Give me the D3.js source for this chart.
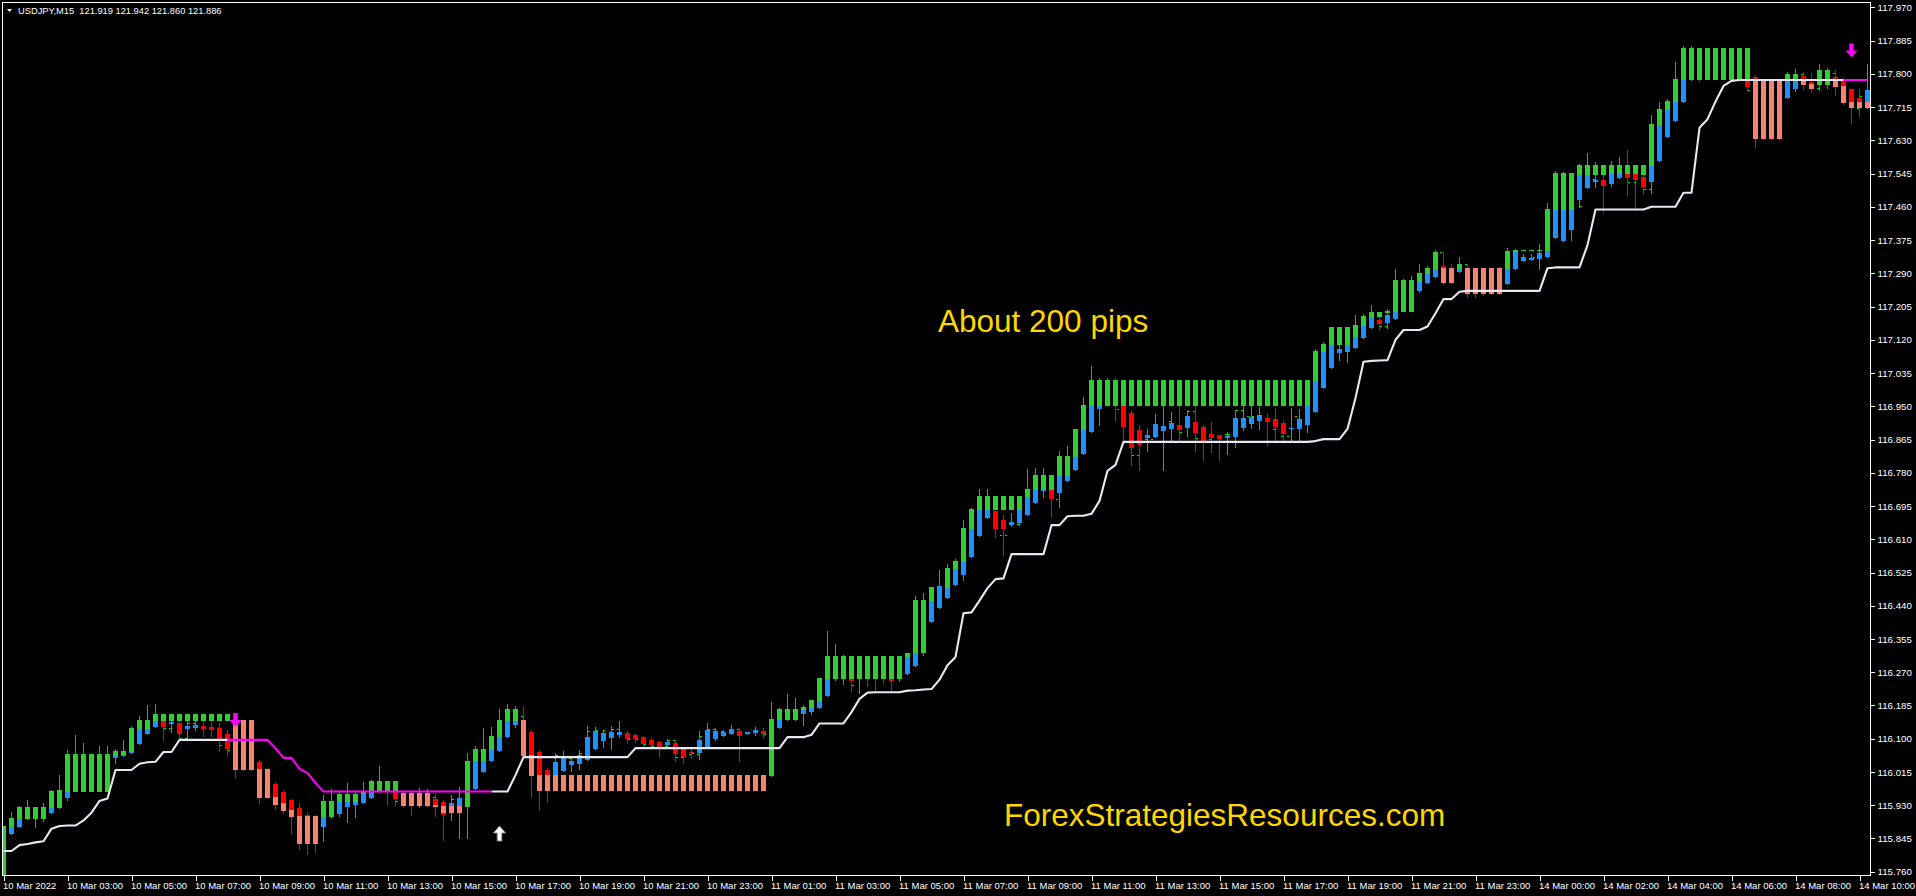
<!DOCTYPE html>
<html><head><meta charset="utf-8">
<script src="https://cdn.jsdelivr.net/npm/d3@7"></script>
<style>html,body{margin:0;padding:0;background:#000;overflow:hidden}</style>
</head><body>
<svg id="chart" width="1916" height="896"></svg>
<script>
// ---------------- DATA ----------------
const chartTitle = "USDJPY,M15  121.919 121.942 121.860 121.886";
const xLabels = ["10 Mar 2022","10 Mar 03:00","10 Mar 05:00","10 Mar 07:00","10 Mar 09:00","10 Mar 11:00","10 Mar 13:00","10 Mar 15:00","10 Mar 17:00","10 Mar 19:00","10 Mar 21:00","10 Mar 23:00","11 Mar 01:00","11 Mar 03:00","11 Mar 05:00","11 Mar 07:00","11 Mar 09:00","11 Mar 11:00","11 Mar 13:00","11 Mar 15:00","11 Mar 17:00","11 Mar 19:00","11 Mar 21:00","11 Mar 23:00","14 Mar 00:00","14 Mar 02:00","14 Mar 04:00","14 Mar 06:00","14 Mar 08:00","14 Mar 10:00"];
const barsPerLabel = 8;
const yTickLabels = ["115.760","115.845","115.930","116.015","116.100","116.185","116.270","116.355","116.440","116.525","116.610","116.695","116.780","116.865","116.950","117.035","117.120","117.205","117.290","117.375","117.460","117.545","117.630","117.715","117.800","117.885","117.970"];
const priceRange = [115.7516, 117.9836];

const open = [
115.790,115.857,115.874,115.897,115.900,115.903,115.910,115.928,115.949,115.969,
115.982,115.994,116.007,116.020,116.051,116.056,116.064,116.087,116.112,116.130,
116.145,116.138,116.140,116.125,116.127,116.133,116.130,116.127,116.112,116.135,
116.122,116.110,116.040,116.020,115.984,115.964,115.943,115.923,115.905,115.892,
115.874,115.900,115.908,115.926,115.931,115.936,115.949,115.969,115.982,115.982,
115.956,115.956,115.943,115.943,115.946,115.938,115.928,115.928,115.926,115.972,
116.016,116.044,116.069,116.104,116.135,116.148,116.117,116.066,116.020,115.999,
116.017,116.033,116.035,116.046,116.074,116.094,116.102,116.110,116.115,116.110,
116.104,116.097,116.092,116.084,116.089,116.074,116.066,116.064,116.079,116.099,
116.107,116.112,116.120,116.112,116.115,116.120,116.020,116.127,116.148,116.153,
116.163,116.168,116.179,116.210,116.253,116.263,116.271,116.263,116.281,116.276,
116.276,116.276,116.255,116.265,116.285,116.327,116.399,116.435,116.461,116.493,
116.519,116.565,116.618,116.665,116.682,116.659,116.647,116.652,116.673,116.703,
116.733,116.735,116.728,116.760,116.787,116.829,116.885,116.943,116.966,116.992,
116.979,116.933,116.889,116.869,116.871,116.887,116.892,116.902,116.894,116.910,
116.897,116.879,116.877,116.869,116.871,116.894,116.905,116.912,116.920,116.917,
116.907,116.892,116.892,116.902,116.936,116.997,117.048,117.086,117.089,117.100,
117.125,117.151,117.171,117.164,117.174,117.209,117.222,117.245,117.266,117.281,
117.309,117.298,117.294,117.298,117.293,117.293,117.293,117.293,117.263,117.301,
117.321,117.324,117.327,117.331,117.380,117.373,117.401,117.477,117.508,117.523,
117.529,117.518,117.534,117.544,117.544,117.536,117.523,117.577,117.638,117.679,
117.728,117.797,117.835,117.835,117.805,117.840,117.810,117.835,117.799,117.792,
117.771,117.759,117.656,117.738,117.761,117.794,117.779,117.771,117.771,117.792,
117.784,117.761,117.738,117.713];
const high = [
115.877,115.913,115.928,115.943,115.926,115.936,115.969,116.007,116.071,116.110,
116.090,116.061,116.081,116.081,116.074,116.097,116.133,116.158,116.186,116.189,
116.163,116.163,116.145,116.145,116.153,116.145,116.143,116.140,116.122,116.148,
116.143,116.135,116.046,116.025,115.989,115.969,115.946,115.936,115.913,115.905,
115.956,115.971,115.964,115.987,115.964,115.989,115.994,116.030,115.992,115.992,
115.964,115.964,115.974,115.971,115.959,115.943,115.956,115.977,116.064,116.081,
116.127,116.130,116.176,116.189,116.184,116.181,116.122,116.071,116.025,116.064,
116.069,116.051,116.071,116.133,116.130,116.122,116.133,116.145,116.120,116.112,
116.107,116.102,116.094,116.099,116.097,116.076,116.074,116.120,116.140,116.127,
116.122,116.135,116.127,116.117,116.130,116.127,116.194,116.179,116.214,116.204,
116.186,116.199,116.255,116.375,116.342,116.314,116.311,116.311,116.311,116.311,
116.311,116.311,116.311,116.319,116.465,116.473,116.488,116.532,116.547,116.560,
116.659,116.690,116.738,116.738,116.697,116.672,116.677,116.697,116.790,116.792,
116.792,116.771,116.835,116.848,116.892,116.974,117.053,117.022,117.022,117.023,
117.012,116.940,116.902,116.892,116.930,116.953,116.935,116.953,116.940,116.953,
116.902,116.910,116.877,116.884,116.940,116.953,116.953,116.948,116.933,116.945,
116.915,116.945,116.943,117.004,117.096,117.114,117.153,117.145,117.132,117.184,
117.186,117.209,117.181,117.199,117.301,117.275,117.283,117.314,117.309,117.350,
117.344,117.314,117.332,117.314,117.304,117.304,117.304,117.307,117.355,117.352,
117.339,117.339,117.365,117.470,117.552,117.549,117.546,117.569,117.598,117.575,
117.544,117.577,117.587,117.605,117.567,117.554,117.695,117.728,117.736,117.830,
117.871,117.871,117.861,117.856,117.861,117.861,117.856,117.856,117.810,117.797,
117.784,117.784,117.784,117.805,117.812,117.805,117.802,117.825,117.815,117.810,
117.789,117.761,117.761,117.825];
const low = [
115.764,115.857,115.874,115.895,115.875,115.890,115.910,115.923,115.943,115.966,
115.966,115.969,115.974,115.969,116.039,116.056,116.064,116.087,116.112,116.130,
116.097,116.118,116.097,116.097,116.122,116.107,116.107,116.069,116.058,116.000,
116.020,116.020,115.936,115.949,115.920,115.910,115.857,115.818,115.805,115.810,
115.839,115.897,115.903,115.887,115.900,115.936,115.948,115.965,115.931,115.931,
115.926,115.905,115.926,115.928,115.903,115.841,115.892,115.846,115.846,115.971,
116.015,116.043,116.069,116.104,116.130,116.056,115.952,115.918,115.939,115.994,
116.017,116.017,116.023,116.046,116.074,116.079,116.074,116.104,116.089,116.092,
116.079,116.079,116.053,116.079,116.043,116.038,116.051,116.048,116.079,116.097,
116.107,116.112,116.043,116.112,116.110,116.102,116.005,116.127,116.148,116.148,
116.135,116.163,116.179,116.209,116.250,116.239,116.222,116.217,116.235,116.222,
116.243,116.224,116.248,116.265,116.285,116.314,116.398,116.434,116.460,116.493,
116.506,116.565,116.618,116.664,116.617,116.570,116.644,116.646,116.672,116.703,
116.718,116.668,116.693,116.759,116.787,116.828,116.884,116.902,116.953,116.912,
116.859,116.800,116.788,116.836,116.871,116.787,116.861,116.861,116.874,116.835,
116.813,116.833,116.813,116.828,116.846,116.889,116.894,116.892,116.851,116.861,
116.864,116.864,116.864,116.884,116.935,116.997,117.048,117.068,117.064,117.099,
117.125,117.150,117.144,117.151,117.173,117.194,117.194,117.242,117.265,117.281,
117.263,117.265,117.293,117.230,117.230,117.235,117.237,117.237,117.263,117.301,
117.321,117.324,117.301,117.331,117.380,117.373,117.375,117.460,117.508,117.511,
117.447,117.513,117.534,117.490,117.458,117.493,117.495,117.577,117.638,117.679,
117.728,117.784,117.782,117.789,117.789,117.794,117.789,117.789,117.759,117.614,
117.633,117.633,117.633,117.738,117.756,117.761,117.753,117.759,117.764,117.746,
117.723,117.674,117.692,117.713];
const close = [
115.872,115.897,115.923,115.923,115.920,115.923,115.964,115.964,116.058,116.046,
116.046,116.033,116.046,116.051,116.066,116.069,116.127,116.148,116.148,116.163,
116.130,116.143,116.113,116.133,116.135,116.125,116.122,116.099,116.074,116.033,
116.033,116.025,115.951,115.956,115.931,115.915,115.903,115.831,115.831,115.836,
115.941,115.941,115.959,115.959,115.959,115.959,115.992,115.989,115.969,115.946,
115.931,115.931,115.956,115.954,115.926,115.906,115.936,115.948,116.043,116.074,
116.074,116.107,116.148,116.176,116.176,116.071,116.005,115.966,115.966,116.040,
116.053,116.043,116.058,116.104,116.120,116.115,116.117,116.117,116.099,116.099,
116.087,116.084,116.079,116.092,116.061,116.053,116.064,116.097,116.122,116.120,
116.117,116.125,116.107,116.117,116.122,116.112,116.143,116.176,116.176,116.173,
116.179,116.199,116.255,116.311,116.301,116.296,116.248,116.289,116.255,116.255,
116.253,116.248,116.301,116.319,116.455,116.442,116.488,116.491,116.537,116.555,
116.639,116.687,116.720,116.720,116.635,116.637,116.654,116.690,116.738,116.774,
116.771,116.713,116.822,116.822,116.892,116.953,117.017,117.004,117.004,116.966,
116.898,116.844,116.851,116.877,116.905,116.900,116.907,116.889,116.925,116.882,
116.861,116.869,116.866,116.874,116.920,116.920,116.923,116.928,116.910,116.897,
116.879,116.894,116.917,116.979,117.091,117.109,117.135,117.097,117.107,117.158,
117.181,117.191,117.161,117.184,117.273,117.260,117.260,117.291,117.304,117.344,
117.266,117.273,117.314,117.247,117.247,117.247,117.247,117.247,117.347,117.350,
117.332,117.330,117.342,117.454,117.546,117.546,117.529,117.567,117.567,117.529,
117.513,117.544,117.567,117.534,117.529,117.511,117.672,117.710,117.730,117.787,
117.866,117.848,117.797,117.810,117.840,117.815,117.835,117.805,117.767,117.643,
117.656,117.656,117.733,117.800,117.800,117.771,117.761,117.810,117.805,117.766,
117.725,117.713,117.713,117.759];

// trend histogram: [firstBar, lastBar, direction, upper price, lower price]
const histRuns = [
[0,0,'up',115.877,115.700],[1,1,'up',115.897,115.874],[2,5,'up',115.926,115.895],[6,6,'up',115.966,115.924],
[7,7,'up',115.969,115.923],[8,13,'up',116.061,115.965],[14,14,'up',116.069,116.057],[15,15,'up',116.069,116.058],
[16,16,'up',116.128,116.066],[17,18,'up',116.148,116.125],[19,28,'up',116.163,116.145],
[29,31,'down',116.148,116.020],[32,33,'down',116.023,115.949],[34,34,'down',115.951,115.931],[35,35,'down',115.936,115.915],
[36,36,'down',115.918,115.900],[37,39,'down',115.903,115.831],
[40,41,'up',115.941,115.900],[42,44,'up',115.959,115.938],[45,45,'up',115.965,115.959],[46,49,'up',115.992,115.965],
[50,53,'down',115.962,115.928],[54,54,'down',115.931,115.926],[55,57,'down',115.928,115.910],
[58,58,'up',116.043,115.926],[59,60,'up',116.074,116.042],[61,61,'up',116.107,116.071],[62,62,'up',116.148,116.104],[63,64,'up',116.176,116.145],
[65,65,'down',116.148,116.056],[66,66,'down',116.058,116.005],[67,67,'down',116.007,115.966],[68,95,'down',116.007,115.967],
[96,96,'up',116.150,116.005],[97,99,'up',116.176,116.148],[100,100,'up',116.181,116.173],[101,101,'up',116.199,116.179],
[102,102,'up',116.255,116.196],[103,112,'up',116.311,116.253],[113,113,'up',116.319,116.309],[114,115,'up',116.455,116.318],
[116,116,'up',116.488,116.452],[118,118,'up',116.537,116.486],[119,119,'up',116.555,116.534],[120,120,'up',116.639,116.552],
[121,121,'up',116.687,116.636],[122,127,'up',116.720,116.685],[128,128,'up',116.738,116.718],[129,131,'up',116.774,116.735],
[132,133,'up',116.822,116.771],[134,134,'up',116.892,116.820],[135,135,'up',116.953,116.889],[136,163,'up',117.017,116.951],
[164,164,'up',117.091,117.014],[165,165,'up',117.109,117.089],[166,168,'up',117.153,117.107],[169,169,'up',117.158,117.128],
[170,170,'up',117.181,117.155],[171,172,'up',117.191,117.178],[173,173,'up',117.194,117.189],[174,176,'up',117.273,117.192],
[177,177,'up',117.291,117.269],[178,178,'up',117.304,117.288],[179,179,'up',117.344,117.301],
[180,181,'down',117.304,117.266],[182,182,'up',117.314,117.301],[183,187,'down',117.304,117.237],
[188,188,'up',117.347,117.300],[189,189,'up',117.350,117.344],[190,192,'up',117.350,117.346],[193,193,'up',117.454,117.347],
[194,196,'up',117.546,117.452],[197,200,'up',117.567,117.541],[201,204,'up',117.567,117.544],[205,205,'up',117.567,117.541],
[206,206,'up',117.672,117.564],[207,207,'up',117.710,117.669],[208,208,'up',117.730,117.707],[209,209,'up',117.787,117.728],
[210,218,'up',117.866,117.784],[219,222,'down',117.784,117.633],[223,224,'up',117.800,117.784],
[225,225,'down',117.782,117.771],[226,226,'down',117.774,117.761],[227,228,'up',117.810,117.771],
[229,229,'down',117.784,117.766],[230,230,'down',117.769,117.725],[231,233,'down',117.728,117.713]];

// trailing stop line: [firstBar, lastBar, price]
const stopUpRuns = [
[0,1,115.813],[2,2,115.828],[3,3,115.831],[4,4,115.835],[5,5,115.838],[6,6,115.870],[7,7,115.877],[8,9,115.878],
[10,10,115.891],[11,11,115.911],[12,12,115.941],[13,13,115.947],[14,16,116.020],[17,17,116.036],[18,18,116.040],
[19,19,116.041],[20,21,116.066],[22,28,116.097],
[61,63,115.965],[64,64,116.007],[65,78,116.053],[79,97,116.076],[98,100,116.104],[101,101,116.110],[102,105,116.139],
[106,106,116.168],[107,107,116.202],[108,108,116.218],[109,112,116.219],[113,113,116.223],[114,114,116.224],
[115,115,116.226],[116,116,116.227],[117,117,116.251],[118,118,116.288],[119,119,116.309],[120,120,116.421],
[121,121,116.423],[122,122,116.453],[123,123,116.485],[124,124,116.508],[125,125,116.510],[126,130,116.572],
[131,132,116.646],[133,133,116.669],[134,135,116.670],[136,136,116.675],[137,137,116.708],[138,138,116.785],
[139,139,116.800],[140,163,116.859],[164,164,116.861],[165,167,116.866],[168,168,116.892],[169,169,116.971],
[170,170,117.064],[171,171,117.066],[172,172,117.067],[173,173,117.068],[174,174,117.120],[175,177,117.145],
[178,178,117.154],[179,179,117.188],[180,181,117.224],[182,182,117.243],[183,192,117.245],[193,193,117.303],
[194,197,117.305],[198,198,117.362],[199,205,117.453],[206,209,117.460],[210,211,117.496],[212,212,117.662],
[213,213,117.684],[214,214,117.729],[215,215,117.769],[216,216,117.782],[217,230,117.784]];
const stopDownRuns = [
[28,33,116.097],[34,34,116.076],[35,36,116.051],[37,37,116.023],[38,38,116.012],[39,39,115.987],[40,61,115.965],
[230,233,117.784]];

// small lime level marks: [bar position, price]
const levelMarks = [
[20.2,116.127],[20.8,116.127],[22.2,116.101],[22.8,116.101],[23.2,116.140],[23.8,116.140],[27.2,116.085],[28.2,116.070],
[49.2,115.941],[53.8,115.950],[56.2,115.945],[64.8,116.158],
[69.2,116.058],[70.8,116.051],[72.2,116.063],[73.2,116.120],[74.2,116.122],[75.0,116.122],[76.2,116.124],[76.8,116.124],
[78.2,116.099],[79.2,116.099],[80.2,116.087],[81.2,116.081],[82.8,116.081],[83.2,116.097],[83.8,116.097],[84.2,116.053],
[84.8,116.053],[85.8,116.061],[86.2,116.064],[86.8,116.061],[87.2,116.107],[88.2,116.125],[88.8,116.125],[89.8,116.119],
[91.8,116.124],[95.2,116.111],
[106.2,116.237],[124.7,116.620],[125.3,116.620],[126.8,116.649],[131.7,116.713],
[139.3,116.942],[141.2,116.825],[141.8,116.825],[142.8,116.866],[143.5,116.866],[145.8,116.912],[147.2,116.884],
[148.2,116.937],[148.8,116.937],[149.2,116.868],[150.8,116.866],[152.8,116.880],[153.2,116.880],[154.2,116.940],
[154.8,116.940],[155.5,116.925],[156.2,116.925],[157.2,116.927],[158.8,116.893],[159.8,116.874],[160.5,116.874],[161.5,116.925],
[172.2,117.154],[172.8,117.154],[179.7,117.344],[182.8,117.313],[191.3,117.331],[197.2,117.461],[198.8,117.530],
[203.2,117.523],[203.9,117.523],[205.2,117.505],[205.8,117.505],[218.2,117.759],[224.8,117.800],[226.8,117.763],
[228.8,117.802],[231.8,117.713],[232.2,117.743]];

// signal arrows: bar and tip price
const sellArrows = [{bar:29, price:116.130},{bar:231, price:117.842}];
const buyArrows = [{bar:62, price:115.877}];

const notes = [
  {text:"About 200 pips", x:938, y:332},
  {text:"ForexStrategiesResources.com", x:1004, y:826}
];

// ---------------- DRAW ----------------
const W = 1916, H = 896;
const plot = {left:2, top:2, right:1870, bottom:875};
const C = {bull:"#1E90FF", bear:"#FF0000", up:"#32CD32", down:"#FA8072", mark:"#00F000",
           stopUp:"#E8E8F4", stopDown:"#FF00FF", text:"#FFFFFF", note:"#FFD700"};
const n = open.length;
const x = d3.scaleLinear().domain([0, n-1]).range([3.5, 3.5 + 8*(n-1)]);
const y = d3.scaleLinear().domain(priceRange).range([plot.bottom, plot.top]);
const ry = v => Math.round(y(v));

const svg = d3.select("#chart");
svg.append("rect").attr("width", W).attr("height", H).attr("fill", "#000");
svg.append("defs").append("clipPath").attr("id","clip")
  .append("rect").attr("x", plot.left).attr("y", plot.top)
  .attr("width", plot.right-plot.left).attr("height", plot.bottom-plot.top);
const g = svg.append("g").attr("clip-path","url(#clip)").attr("shape-rendering","crispEdges");

const bars = d3.range(n).map(i => ({i, o:open[i], h:high[i], l:low[i], c:close[i]}));
const col = d => d.c >= d.o ? C.bull : C.bear;

g.append("g").selectAll("rect").data(bars).join("rect")
  .attr("x", d => x(d.i) - 0.5).attr("width", 1)
  .attr("y", d => ry(d.h)).attr("height", d => Math.max(1, ry(d.l) - ry(d.h) + 1))
  .attr("fill", col);
g.append("g").selectAll("rect").data(bars).join("rect")
  .attr("x", d => x(d.i) - 2.5).attr("width", 5)
  .attr("y", d => ry(Math.max(d.o, d.c)))
  .attr("height", d => Math.max(1, ry(Math.min(d.o, d.c)) - ry(Math.max(d.o, d.c))))
  .attr("fill", col);

const hist = [];
histRuns.forEach(([a,b,dir,t,bt]) => { for (let i=a;i<=b;i++) hist.push({i,dir,t,bt}); });
g.append("g").selectAll("rect").data(hist).join("rect")
  .attr("x", d => x(d.i) - 2.5).attr("width", 5)
  .attr("y", d => ry(d.t)).attr("height", d => Math.max(1, ry(d.bt) - ry(d.t)))
  .attr("fill", d => d.dir === "up" ? C.up : C.down);

g.append("g").selectAll("rect").data(levelMarks).join("rect")
  .attr("x", d => Math.round(x(d[0]) - 1)).attr("width", 2)
  .attr("y", d => ry(d[1])).attr("height", 1).attr("fill", C.mark);

function expand(runs) {
  const arr = new Array(n).fill(null);
  runs.forEach(([a,b,v]) => { for (let i=a;i<=b;i++) arr[i] = v; });
  return arr;
}
const line = d3.line().defined(v => v !== null).x((v,i) => x(i)).y(v => y(v));
const lg = svg.append("g").attr("clip-path","url(#clip)");
lg.append("path").attr("d", line(expand(stopUpRuns))).attr("fill","none")
  .attr("stroke", C.stopUp).attr("stroke-width", 2.1).attr("stroke-linejoin","round");
lg.append("path").attr("d", line(expand(stopDownRuns))).attr("fill","none")
  .attr("stroke", C.stopDown).attr("stroke-width", 2.1).attr("stroke-linejoin","round");

// arrows
function arrowPath(cx, tip, s, h) { // s = 1 pointing down, -1 pointing up
  const pts = [[-2.3,-h],[2.3,-h],[2.3,-7],[6,-7],[0,0],[-6,-7],[-2.3,-7]];
  return "M" + pts.map(([px,py]) => [cx+px, tip + s*py].join(",")).join("L") + "Z";
}
lg.selectAll("path.sell").data(sellArrows).join("path").attr("class","sell")
  .attr("d", d => arrowPath(x(d.bar), y(d.price), 1, 14)).attr("fill", C.stopDown);
lg.selectAll("path.buy").data(buyArrows).join("path").attr("class","buy")
  .attr("d", d => arrowPath(x(d.bar), y(d.price), -1, 15)).attr("fill", "#FFFFFF")
  .attr("stroke","#7F93B0").attr("stroke-width",0.9);

// frame
svg.append("rect").attr("x", plot.left+0.5).attr("y", plot.top+0.5)
  .attr("width", plot.right-plot.left).attr("height", plot.bottom-plot.top)
  .attr("fill","none").attr("stroke","#FFFFFF").attr("stroke-width",1).attr("shape-rendering","crispEdges");

const FONT = "'Liberation Sans', Arial, sans-serif";
// y axis
const yAxis = d3.axisRight(y).tickValues(yTickLabels.map(Number))
  .tickFormat((d,i) => yTickLabels[i]).tickSize(4).tickSizeOuter(0).tickPadding(3);
const ya = svg.append("g").attr("transform", `translate(${plot.right+0.5},0)`).call(yAxis);
ya.select(".domain").remove();
ya.selectAll("line").attr("stroke","#FFFFFF").attr("shape-rendering","crispEdges");
ya.selectAll("text").attr("fill", C.text).attr("font-family", FONT).attr("font-size", "9.7px");

// x axis
const xAxis = d3.axisBottom(x).tickValues(xLabels.map((_,i) => i*barsPerLabel))
  .tickFormat((d,i) => xLabels[i]).tickSize(5).tickSizeOuter(0);
const xa = svg.append("g").attr("transform", `translate(0,${plot.bottom+0.5})`).call(xAxis);
xa.select(".domain").remove();
xa.selectAll("line").attr("stroke","#FFFFFF").attr("shape-rendering","crispEdges");
xa.selectAll("text").attr("fill", C.text).attr("font-family", FONT).attr("font-size","9.5px")
  .attr("text-anchor","start").attr("x",-1).attr("dy",null).attr("y",13);

// title
svg.append("path").attr("d","M7,9L12,9L9.5,12Z").attr("fill","#FFFFFF");
svg.append("text").attr("x",18).attr("y",14).attr("fill","#FFFFFF")
  .attr("font-family",FONT).attr("font-size","9.3px").attr("xml:space","preserve")
  .style("white-space","pre").text(chartTitle);

// notes
svg.selectAll("text.note").data(notes).join("text").attr("class","note")
  .attr("x", d => d.x).attr("y", d => d.y).attr("fill", C.note)
  .attr("font-family", FONT).attr("font-size","31.5px").text(d => d.text);
</script>
</body></html>
